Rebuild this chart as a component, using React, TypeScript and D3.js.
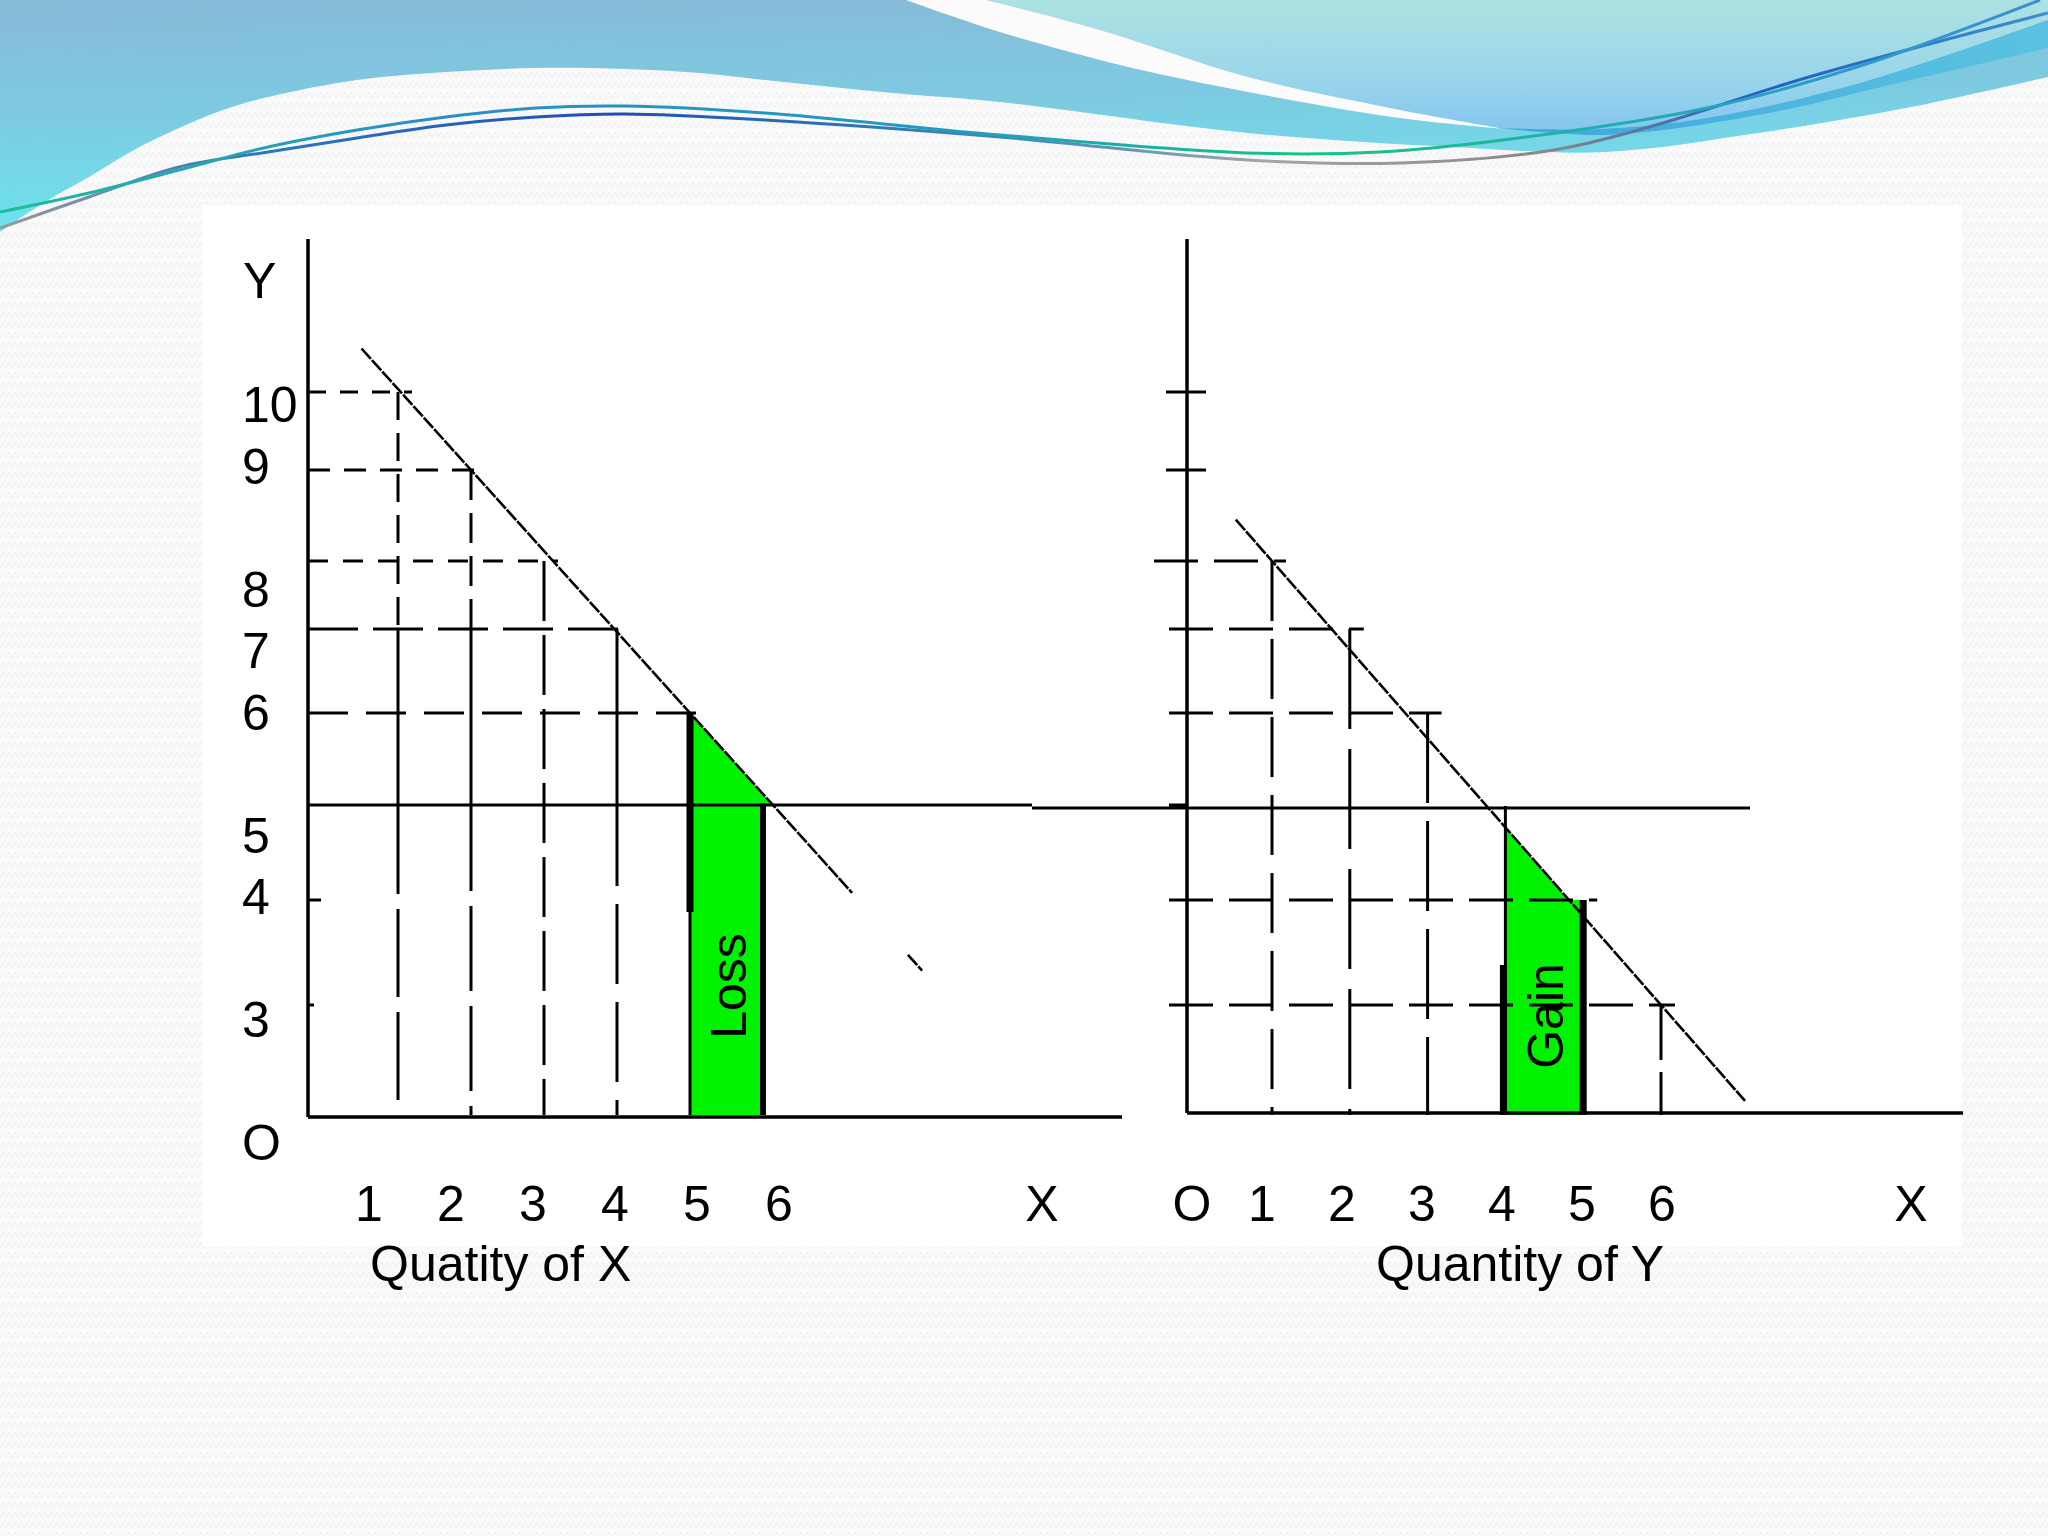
import React from 'react'
import * as d3 from 'd3'

// marginal utility schedules
const units = [1, 2, 3, 4, 5, 6]
const muOfX = [10, 9, 8, 7, 6, 5]
const muOfY = [8, 7, 6, 5, 4, 3]

// levels marked on the vertical axes (O is the origin)
const muLevels = [0, 3, 4, 5, 6, 7, 8, 9, 10]
const yAxisLabels = ['10', '9', '', '8', '7', '6', '', '5', '4', '', '3', '', 'O']
const leftStubLevels = [4, 3]
const rightTickLevels = [10, 9]

// level where both panels balance, and the unit moved from X to Y
const balanceMU = 5
const lossUnits = [5, 6]
const gainUnits = [4, 5]

const xTitle = 'Quatity of X'
const yTitle = 'Quantity of Y'

const W = 2048
const H = 1536
const FONT = '"Liberation Sans", Arial, Helvetica, sans-serif'
const FS = 50
const GREEN = '#00f200'

type Pt = [number, number]

// rows on the slide are not evenly spaced, so the level scale is piecewise
const yMU = d3
  .scaleLinear()
  .domain(muLevels)
  .range([1115, 1005, 900, 806, 713, 629, 561, 470, 392])
const y0 = yMU(0)

const leftPanel = {
  origin: 308,
  top: 239,
  end: 1122,
  x: d3.scaleLinear().domain([1, 6]).range([398, 763]),
  tick: d3.scaleLinear().domain([1, 6]).range([369, 779]),
  xMark: 1042,
}
const rightPanel = {
  origin: 1187,
  top: 239,
  end: 1963,
  x: d3.scaleLinear().domain([1, 6]).range([1272, 1661]),
  tick: d3.scaleLinear().domain([1, 6]).range([1262, 1662]),
  xMark: 1911,
}

const along = (a: Pt, b: Pt, t: number): Pt => [a[0] + (b[0] - a[0]) * t, a[1] + (b[1] - a[1]) * t]
const xAtY = (a: Pt, b: Pt, yy: number) => a[0] + ((yy - a[1]) / (b[1] - a[1])) * (b[0] - a[0])
const yAtX = (a: Pt, b: Pt, xx: number) => a[1] + ((xx - a[0]) / (b[0] - a[0])) * (b[1] - a[1])

// the MU lines are drawn through two of the schedule points
const anchor = (p: typeof leftPanel, mu: number[], i: number): Pt => [p.x(units[i]), yMU(mu[i])]
const muxA = anchor(leftPanel, muOfX, 1)
const muxB = anchor(leftPanel, muOfX, 4)
const muyA = anchor(rightPanel, muOfY, 0)
const muyB = anchor(rightPanel, muOfY, 5)

const line = d3.line()
const smooth = d3.line().curve(d3.curveCatmullRom.alpha(0.5))

function strip(p: typeof leftPanel, a: Pt, b: Pt, span: number[], mu: number[]) {
  const xa = p.x(span[0])
  const xb = p.x(span[1])
  const yl = yMU(mu[units.indexOf(span[1])])
  const pts: Pt[] = [
    [xa, yAtX(a, b, xa)],
    [xAtY(a, b, yl), yl],
    [xb, yl],
    [xb, y0],
    [xa, y0],
  ]
  return line(pts) + 'Z'
}

type Seg = { from: number; to: number; dash?: string; w?: number; dx?: number }

const leftRules: Record<number, (top: number) => Seg[]> = {
  1: (top) => [
    { from: top, to: yMU(7), dash: '28 13' },
    { from: yMU(7), to: yMU(5) },
    { from: yMU(5), to: y0, dash: '88 15' },
  ],
  2: (top) => [
    { from: top, to: yMU(7), dash: '30 13' },
    { from: yMU(7), to: yMU(5) },
    { from: yMU(5), to: y0, dash: '85 15' },
  ],
  3: (top) => [{ from: top, to: y0, dash: '60 14' }],
  4: (top) => [
    { from: top, to: yMU(5) },
    { from: yMU(5), to: y0, dash: '80 18' },
  ],
  5: (top) => [
    { from: top, to: yMU(4) + 12, w: 7 },
    { from: yMU(4) + 12, to: y0 },
  ],
  6: (top) => [{ from: top - 3, to: y0, w: 6 }],
}

const rightRules: Record<number, (top: number) => Seg[]> = {
  1: (top) => [{ from: top, to: y0, dash: '60 18' }],
  2: (top) => [{ from: top, to: y0, dash: '100 20' }],
  3: (top) => [{ from: top, to: y0, dash: '90 18' }],
  4: (top) => [
    { from: top, to: y0 },
    { from: y0 - 150, to: y0, w: 7, dx: -2 },
  ],
  5: (top) => [{ from: top, to: y0, w: 7 }],
  6: (top) => [{ from: top, to: y0, dash: '55 12' }],
}

const leftDash: Record<number, string> = { 10: '18 14', 9: '22 14', 8: '20 15', 7: '50 15', 6: '40 18' }

// decoration of the slide header
const waveBottom: Pt[] = [
  [2048, 77], [1911, 107], [1758, 133], [1605, 152], [1452, 147], [1248, 133], [1000, 102],
  [893, 93], [765, 80], [700, 73], [625, 69], [536, 68], [446, 72], [357, 80], [268, 97],
  [223, 110], [179, 128], [134, 150], [89, 177], [45, 202], [0, 232],
]
const swooshA: Pt[] = [[906, 0], [1000, 32], [1120, 65], [1248, 92], [1400, 118], [1505, 129]]
const swooshB: Pt[] = [[1505, 129], [1400, 110], [1248, 77], [1100, 30], [986, 0]]
const bandTop: Pt[] = [[1500, 128], [1600, 129], [1707, 118], [1860, 83], [2048, 20]]
const bandBottom: Pt[] = [[2048, 48], [1911, 80], [1758, 115], [1605, 135], [1500, 128]]
const curveA: Pt[] = [
  [0, 212], [89, 193], [179, 170], [268, 147], [357, 130], [446, 117], [536, 108], [625, 106],
  [765, 113], [1000, 135], [1248, 153], [1380, 152], [1503, 140], [1707, 108], [1860, 66], [2040, 0],
]
const curveB: Pt[] = [
  [0, 228], [89, 197], [179, 167], [268, 152], [357, 138], [446, 125], [536, 117], [625, 114],
  [765, 120], [1000, 137], [1248, 160], [1401, 163], [1554, 150], [1656, 125], [1809, 77], [2048, 13],
]

function Header() {
  const tail = (pts: Pt[]) => (smooth(pts) as string).slice(1)
  const waveD = `M0,0L2048,0L${tail(waveBottom)}Z`
  const swooshD = `${smooth(swooshA)}L${tail(swooshB)}Z`
  const lightD = `M986,0L${tail([[986, 0], ...swooshB.slice().reverse().slice(1)] as Pt[])}L${tail(bandTop.slice(1))}L2048,0Z`
  const bandD = `${smooth(bandTop)}L${tail(bandBottom)}Z`
  return (
    <g>
      <path d={waveD} fill="url(#waveFill)" />
      <path d={lightD} fill="url(#lightFill)" />
      <path d={swooshD} fill="#fbfbfc" />
      <path d={bandD} fill="url(#bandFill)" />
      <path d={smooth(curveB) as string} fill="none" stroke="url(#curveBStroke)" strokeWidth={3} />
      <path d={smooth(curveA) as string} fill="none" stroke="url(#curveAStroke)" strokeWidth={3} />
    </g>
  )
}

function Rules({ p, mu, rules }: { p: typeof leftPanel; mu: number[]; rules: Record<number, (top: number) => Seg[]> }) {
  return (
    <g stroke="#000" fill="none">
      {units.map((q, i) =>
        rules[q](yMU(mu[i])).map((s, k) => (
          <line
            key={`${q}-${k}`}
            x1={p.x(q) + (s.dx ?? 0)}
            x2={p.x(q) + (s.dx ?? 0)}
            y1={s.from}
            y2={s.to}
            strokeWidth={s.w ?? 3}
            strokeDasharray={s.dash}
          />
        )),
      )}
    </g>
  )
}

export default function App() {
  const L = leftPanel
  const R = rightPanel
  const demandX: Pt[] = [along(muxA, muxB, -0.5), along(muxA, muxB, 1.74)]
  const demandXBit: Pt[] = [along(muxA, muxB, 1.995), along(muxA, muxB, 2.06)]
  const demandY: Pt[] = [along(muyA, muyB, -0.093), along(muyA, muyB, 1.216)]
  const yb = yMU(balanceMU)

  return (
    <svg
      width={W}
      height={H}
      viewBox={`0 0 ${W} ${H}`}
      style={{ position: 'absolute', left: 0, top: 0, display: 'block' }}
      fontFamily={FONT}
    >
      <defs>
        <pattern id="paper" width={12} height={10} patternUnits="userSpaceOnUse">
          <rect width={12} height={10} fill="#fafafb" />
          <path d="M0 8 L3 2 L6 8 L9 2 L12 8" fill="none" stroke="#ebebf0" strokeWidth={0.8} />
        </pattern>
        <linearGradient id="waveFill" x1="0" y1="0" x2="0.15" y2="1">
          <stop offset="0" stopColor="#87b9d7" />
          <stop offset="0.5" stopColor="#7dcbe1" />
          <stop offset="1" stopColor="#6be4ef" />
        </linearGradient>
        <linearGradient id="lightFill" x1="0" y1="0" x2="0" y2="1">
          <stop offset="0" stopColor="#ade2e2" />
          <stop offset="0.6" stopColor="#9ad6ea" />
          <stop offset="1" stopColor="#86c6f0" />
        </linearGradient>
        <linearGradient id="bandFill" x1="0" y1="0" x2="1" y2="0">
          <stop offset="0" stopColor="#3ea6dc" />
          <stop offset="1" stopColor="#5bc3e0" />
        </linearGradient>
        <linearGradient id="curveAStroke" gradientUnits="userSpaceOnUse" x1="0" y1="0" x2="2048" y2="0">
          <stop offset="0" stopColor="#1cbf98" />
          <stop offset="0.2" stopColor="#2a8fc4" />
          <stop offset="0.45" stopColor="#2499be" />
          <stop offset="0.65" stopColor="#15c487" />
          <stop offset="0.85" stopColor="#27a2c4" />
          <stop offset="1" stopColor="#3a8fd0" />
        </linearGradient>
        <linearGradient id="curveBStroke" gradientUnits="userSpaceOnUse" x1="0" y1="0" x2="2048" y2="0">
          <stop offset="0" stopColor="#9a9a9a" />
          <stop offset="0.12" stopColor="#2f78c0" />
          <stop offset="0.3" stopColor="#1f50b0" />
          <stop offset="0.5" stopColor="#3a8fb8" />
          <stop offset="0.62" stopColor="#a5a5a5" />
          <stop offset="0.75" stopColor="#8a8a8a" />
          <stop offset="0.86" stopColor="#2060c0" />
          <stop offset="1" stopColor="#3a90d0" />
        </linearGradient>
      </defs>

      <rect width={W} height={H} fill="url(#paper)" />
      <Header />
      <rect x={202} y={205} width={1760} height={1042} fill="#fff" />

      {/* shaded loss / gain strips */}
      <path d={strip(L, muxA, muxB, lossUnits, muOfX)} fill={GREEN} />
      <path d={strip(R, muyA, muyB, gainUnits, muOfY)} fill={GREEN} />

      {/* horizontal guides */}
      <g stroke="#000" strokeWidth={3} fill="none">
        {units.map((q, i) =>
          muOfX[i] === balanceMU ? null : (
            <line
              key={`lh${q}`}
              x1={L.origin}
              x2={L.x(q) + 14}
              y1={yMU(muOfX[i])}
              y2={yMU(muOfX[i])}
              strokeDasharray={leftDash[muOfX[i]]}
            />
          ),
        )}
        {leftStubLevels.map((m) => (
          <line key={`ls${m}`} x1={L.origin} x2={L.origin + (m === 4 ? 13 : 6)} y1={yMU(m)} y2={yMU(m)} />
        ))}
        {units.map((q, i) =>
          muOfY[i] === balanceMU ? null : (
            <line
              key={`rh${q}`}
              x1={R.origin - (i === 0 ? 33 : 18)}
              x2={R.x(q) + 14}
              y1={yMU(muOfY[i])}
              y2={yMU(muOfY[i])}
              strokeDasharray="44 16"
            />
          ),
        )}
        {rightTickLevels.map((m) => (
          <line key={`rt${m}`} x1={R.origin - 21} x2={R.origin + 19} y1={yMU(m)} y2={yMU(m)} />
        ))}
        <line x1={R.origin - 18} x2={R.origin} y1={yb} y2={yb} strokeWidth={5} />
        {/* balance line across both panels */}
        <line x1={L.origin} x2={1032} y1={yb - 1} y2={yb - 1} />
        <line x1={1032} x2={1750} y1={yb + 2} y2={yb + 2} />
      </g>

      <Rules p={L} mu={muOfX} rules={leftRules} />
      <Rules p={R} mu={muOfY} rules={rightRules} />

      {/* marginal utility lines */}
      <g stroke="#000" strokeWidth={2.6} fill="none" strokeDasharray="14 1.5">
        <path d={line(demandX) as string} />
        <path d={line(demandXBit) as string} />
        <path d={line(demandY) as string} />
      </g>

      {/* axes */}
      <g stroke="#000" strokeWidth={3.5} fill="none">
        <line x1={L.origin} x2={L.origin} y1={L.top} y2={y0 + 2} />
        <line x1={L.origin} x2={L.end} y1={y0 + 2} y2={y0 + 2} />
        <line x1={R.origin} x2={R.origin} y1={R.top} y2={y0 - 2} />
        <line x1={R.origin} x2={R.end} y1={y0 - 2} y2={y0 - 2} />
      </g>

      {/* texts */}
      <g fontSize={FS} fill="#000">
        <text x={243} y={298}>Y</text>
        {yAxisLabels.map((t, k) => (
          <text key={`yl${k}`} x={242} y={422 + k * 61.5}>
            {t}
          </text>
        ))}
        {units.map((q) => (
          <text key={`xl${q}`} x={L.tick(q)} y={1221} textAnchor="middle">
            {q}
          </text>
        ))}
        <text x={L.xMark} y={1221} textAnchor="middle">X</text>
        <text x={370} y={1281}>{xTitle}</text>

        <text x={R.origin + 5} y={1221} textAnchor="middle">O</text>
        {units.map((q) => (
          <text key={`xr${q}`} x={R.tick(q)} y={1221} textAnchor="middle">
            {q}
          </text>
        ))}
        <text x={R.xMark} y={1221} textAnchor="middle">X</text>
        <text x={1376} y={1281}>{yTitle}</text>

        <text
          transform={`translate(${(L.x(lossUnits[0]) + L.x(lossUnits[1])) / 2 + 19},986) rotate(-90)`}
          textAnchor="middle"
        >
          Loss
        </text>
        <text
          transform={`translate(${(R.x(gainUnits[0]) + R.x(gainUnits[1])) / 2 + 19},1016) rotate(-90)`}
          textAnchor="middle"
        >
          Gain
        </text>
      </g>
    </svg>
  )
}
